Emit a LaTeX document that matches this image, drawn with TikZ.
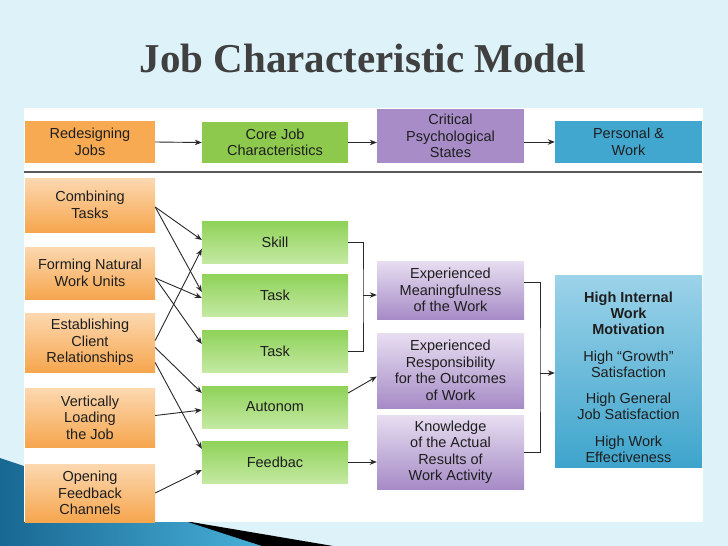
\documentclass[tikz,border=0pt]{standalone}
\usepackage{fontspec}
\usetikzlibrary{arrows.meta}
\setmainfont{Liberation Sans}
\newfontfamily\titlefont{Liberation Serif}
\definecolor{sky}{RGB}{221,243,249}
\definecolor{ink}{RGB}{30,30,30}
\definecolor{wire}{RGB}{40,40,40}
\definecolor{orangehead}{RGB}{248,170,82}
\definecolor{orangetop}{RGB}{252,216,176}
\definecolor{orangebot}{RGB}{246,166,78}
\definecolor{greenhead}{RGB}{141,201,76}
\definecolor{greentop}{RGB}{142,210,88}
\definecolor{greenbot}{RGB}{196,233,162}
\definecolor{purplehead}{RGB}{167,140,199}
\definecolor{purpletop}{RGB}{231,222,241}
\definecolor{purplebot}{RGB}{166,139,198}
\definecolor{bluehead}{RGB}{66,167,207}
\definecolor{bluetop}{RGB}{156,211,233}
\definecolor{bluebot}{RGB}{62,164,204}
\definecolor{swoopdark}{RGB}{24,104,146}
\definecolor{swooplight}{RGB}{72,176,216}
\tikzset{
  box/.style={rectangle,inner sep=0pt,text=ink,align=center,
    font=\fontsize{14.5}{16.5}\selectfont},
  head/.style={box,minimum width=146,minimum height=42},
  lever/.style={box,top color=orangetop,bottom color=orangebot,
    minimum width=130},
  core/.style={box,top color=greentop,bottom color=greenbot,
    minimum width=146,minimum height=42},
  state/.style={box,top color=purpletop,bottom color=purplebot,
    minimum width=147},
  outcome/.style={box,top color=bluetop,bottom color=bluebot,
    minimum width=147,minimum height=192,font=\fontsize{14.5}{16}\selectfont}
}
\begin{document}
\begin{tikzpicture}[x=1pt,y=-1pt]
      \useasboundingbox (0,0) rectangle (728,546);
      \fill[sky] (0,0) rectangle (728,546);
      \shade[left color=swoopdark,right color=swooplight]
        (0,458) -- (262,546) -- (0,546) -- cycle;
      \fill[black] (185,521) -- (333,546) -- (262,546) -- cycle;
      \fill[white] (24,108) rectangle (703,522);
      \node[anchor=base,text=black!75,font=\titlefont\bfseries\fontsize{41}{45}\selectfont]
        (title) at (363,72) {Job Characteristic Model};
      \draw[black!65,line width=1.8pt] (24,172) -- (702,172);
      \draw
        (90,142) node[head,fill=orangehead,minimum width=130] (redesign){Redesigning\\Jobs}
        (275,142.5) node[head,fill=greenhead,minimum height=41] (corejob){Core Job\\Characteristics}
        (450.5,136) node[head,fill=purplehead,minimum width=147,minimum height=54] (critical){Critical\\Psychological\\States}
        (628.5,142) node[head,fill=bluehead,minimum width=147] (personal){Personal \&\\Work};
      \draw
        (90,205) node[lever,minimum height=54] (combine){Combining\\Tasks}
        (90,273) node[lever,minimum height=52] (forming){Forming Natural\\Work Units}
        (90,342.5) node[lever,minimum height=59] (client){Establishing\\Client\\Relationships}
        (90,417.5) node[lever,minimum height=59] (loading){Vertically\\Loading\\the Job}
        (90,493) node[lever,minimum height=58] (opening){Opening\\Feedback\\Channels};
      \draw
        (275,242) node[core] (skill){Skill}
        (275,295) node[core] (taska){Task}
        (275,351) node[core] (taskb){Task}
        (275,407) node[core] (autonomy){Autonom}
        (275,462) node[core] (feedback){Feedbac};
      \draw
        (450.5,290) node[state,minimum height=58] (meaning){Experienced\\Meaningfulness\\of the Work}
        (450.5,370.5) node[state,minimum height=75] (respons){Experienced\\Responsibility\\for the Outcomes\\of Work}
        (450.5,452) node[state,minimum height=74] (knowledge){Knowledge\\of the Actual\\Results of\\Work Activity}
        (628.5,371) node[outcome] (result){\rule{0pt}{24pt}\textbf{High Internal}\\\textbf{Work}\\\textbf{Motivation}\\[11pt]
          High “Growth”\\Satisfaction\\[10pt]High General\\Job Satisfaction\\[11pt]High Work\\Effectiveness};
      \coordinate (jointa) at (363,295);
      \coordinate (jointb) at (540,373);
      \begin{scope}[draw=wire,line width=0.9pt,-{Stealth[length=7pt,width=5.5pt]}]
        \draw (redesign.east) to (corejob.west);
        \draw (corejob.east) to (corejob.east -| critical.west);
        \draw (critical.east |- personal.west) to (personal.west);
        \draw ([yshift=-2]combine.east) to ([yshift=2]skill.west);
        \draw ([yshift=-2]combine.east) to ([yshift=3]taska.west);
        \draw ([yshift=-5]forming.east) to ([yshift=-3]taska.west);
        \draw ([yshift=-5]forming.east) to ([yshift=7]taskb.west);
        \draw ([yshift=2]client.east) to ([yshift=-7]skill.west);
        \draw ([yshift=-5]client.east) to ([yshift=14]autonomy.west);
        \draw ([yshift=-20]client.east) to ([yshift=13]feedback.west);
        \draw ([yshift=2]loading.east) to ([yshift=-3]autonomy.west);
        \draw (opening.east) to ([yshift=-8]feedback.west);
        \draw (jointa) to (jointa -| meaning.west);
        \draw ([yshift=14]autonomy.east) to ([yshift=-6]respons.west);
        \draw (feedback.east) to (feedback.east -| knowledge.west);
        \draw (jointb) to (jointb -| result.west);
      \end{scope}
      \begin{scope}[draw=wire,line width=0.9pt,-]
        \draw (skill.east) -| (jointa) |- (taskb.east);
        \draw ([yshift=8]meaning.east) -| (jointb) |- (knowledge.east);
      \end{scope}
    \end{tikzpicture}
\end{document}
